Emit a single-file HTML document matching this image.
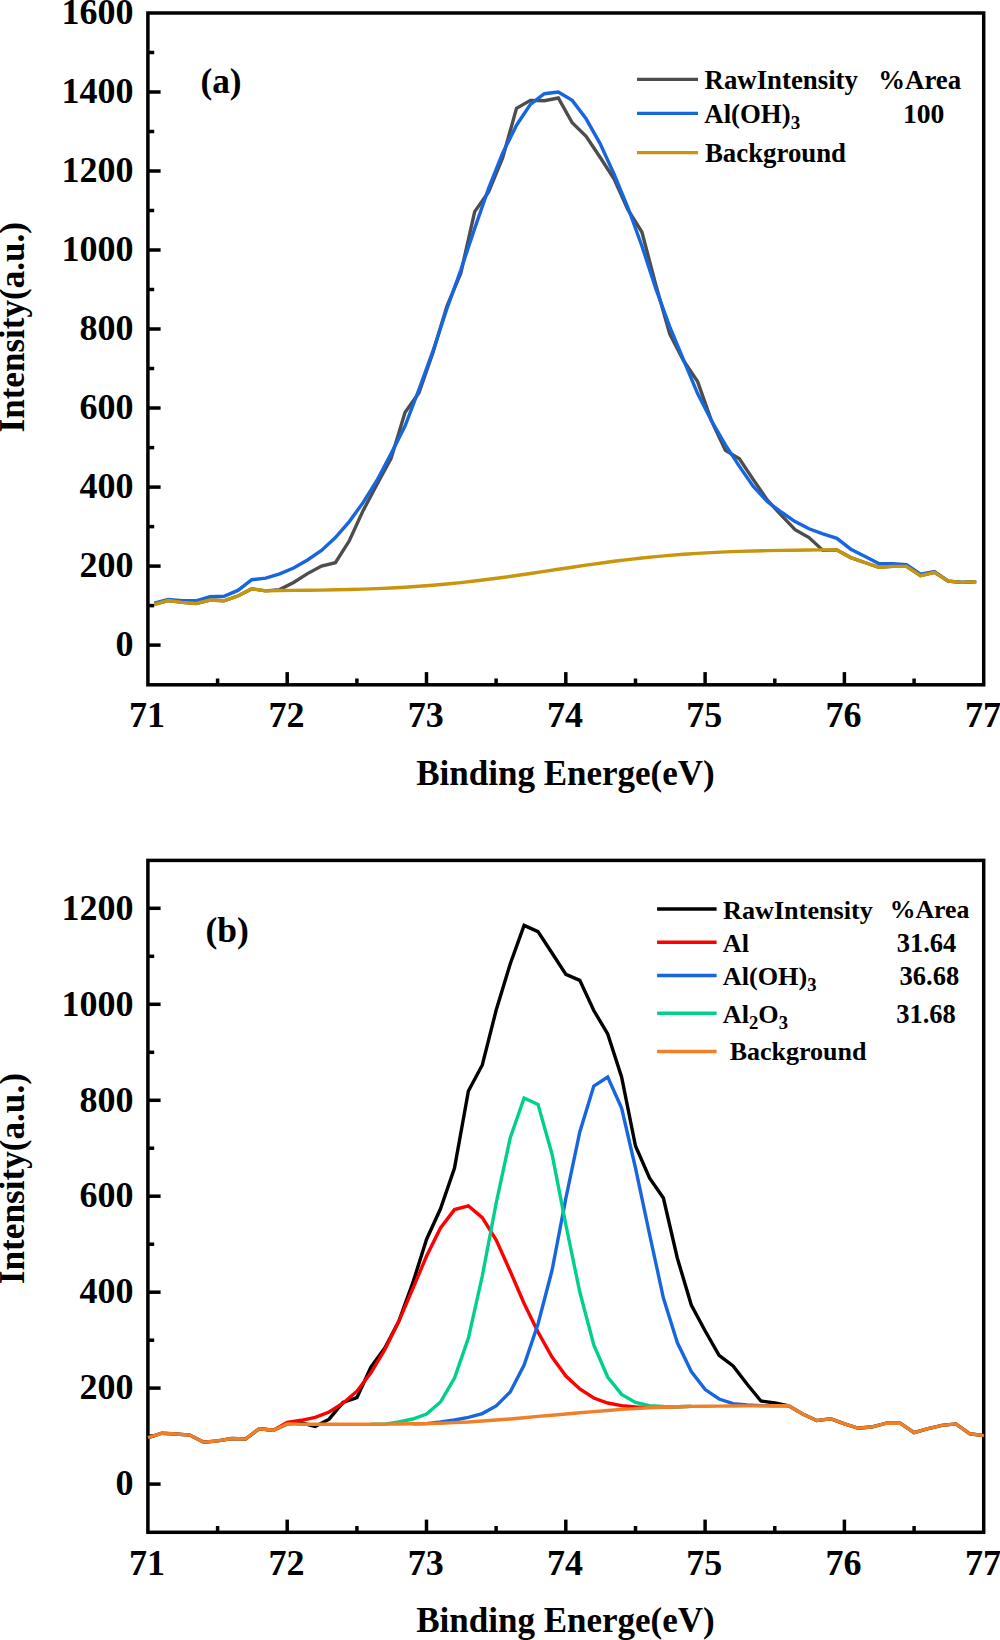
<!DOCTYPE html>
<html lang="en"><head><meta charset="utf-8"><title>XPS Al 2p spectra</title>
<style>html,body{margin:0;padding:0;background:#fff}body{width:1000px;height:1640px;overflow:hidden}svg{display:block}text{font-family:"Liberation Serif","Times New Roman",serif;font-weight:bold;fill:#000}</style>
</head><body>
<svg width="1000" height="1640" viewBox="0 0 1000 1640">
<rect width="1000" height="1640" fill="#fff"/>
<rect x="147.9" y="13.0" width="835.8" height="671.8" fill="none" stroke="#000" stroke-width="3.5"/>
<line x1="147.9" y1="645.1" x2="160.6" y2="645.1" stroke="#000" stroke-width="3.5"/>
<text x="133.5" y="656.3" font-size="36" text-anchor="end">0</text>
<line x1="147.9" y1="605.6" x2="154.2" y2="605.6" stroke="#000" stroke-width="3.5"/>
<line x1="147.9" y1="566.1" x2="160.6" y2="566.1" stroke="#000" stroke-width="3.5"/>
<text x="133.5" y="577.3" font-size="36" text-anchor="end">200</text>
<line x1="147.9" y1="526.6" x2="154.2" y2="526.6" stroke="#000" stroke-width="3.5"/>
<line x1="147.9" y1="487.1" x2="160.6" y2="487.1" stroke="#000" stroke-width="3.5"/>
<text x="133.5" y="498.3" font-size="36" text-anchor="end">400</text>
<line x1="147.9" y1="447.6" x2="154.2" y2="447.6" stroke="#000" stroke-width="3.5"/>
<line x1="147.9" y1="408.0" x2="160.6" y2="408.0" stroke="#000" stroke-width="3.5"/>
<text x="133.5" y="419.2" font-size="36" text-anchor="end">600</text>
<line x1="147.9" y1="368.5" x2="154.2" y2="368.5" stroke="#000" stroke-width="3.5"/>
<line x1="147.9" y1="329.0" x2="160.6" y2="329.0" stroke="#000" stroke-width="3.5"/>
<text x="133.5" y="340.2" font-size="36" text-anchor="end">800</text>
<line x1="147.9" y1="289.5" x2="154.2" y2="289.5" stroke="#000" stroke-width="3.5"/>
<line x1="147.9" y1="250.0" x2="160.6" y2="250.0" stroke="#000" stroke-width="3.5"/>
<text x="133.5" y="261.2" font-size="36" text-anchor="end">1000</text>
<line x1="147.9" y1="210.5" x2="154.2" y2="210.5" stroke="#000" stroke-width="3.5"/>
<line x1="147.9" y1="171.0" x2="160.6" y2="171.0" stroke="#000" stroke-width="3.5"/>
<text x="133.5" y="182.2" font-size="36" text-anchor="end">1200</text>
<line x1="147.9" y1="131.5" x2="154.2" y2="131.5" stroke="#000" stroke-width="3.5"/>
<line x1="147.9" y1="92.0" x2="160.6" y2="92.0" stroke="#000" stroke-width="3.5"/>
<text x="133.5" y="103.2" font-size="36" text-anchor="end">1400</text>
<line x1="147.9" y1="52.5" x2="154.2" y2="52.5" stroke="#000" stroke-width="3.5"/>
<text x="133.5" y="24.1" font-size="36" text-anchor="end">1600</text>
<text x="147.1" y="727.3" font-size="36" text-anchor="middle">71</text>
<line x1="217.6" y1="684.8" x2="217.6" y2="678.5" stroke="#000" stroke-width="3.5"/>
<line x1="287.2" y1="684.8" x2="287.2" y2="672.1" stroke="#000" stroke-width="3.5"/>
<text x="286.4" y="727.3" font-size="36" text-anchor="middle">72</text>
<line x1="356.9" y1="684.8" x2="356.9" y2="678.5" stroke="#000" stroke-width="3.5"/>
<line x1="426.5" y1="684.8" x2="426.5" y2="672.1" stroke="#000" stroke-width="3.5"/>
<text x="425.7" y="727.3" font-size="36" text-anchor="middle">73</text>
<line x1="496.1" y1="684.8" x2="496.1" y2="678.5" stroke="#000" stroke-width="3.5"/>
<line x1="565.8" y1="684.8" x2="565.8" y2="672.1" stroke="#000" stroke-width="3.5"/>
<text x="565.0" y="727.3" font-size="36" text-anchor="middle">74</text>
<line x1="635.5" y1="684.8" x2="635.5" y2="678.5" stroke="#000" stroke-width="3.5"/>
<line x1="705.1" y1="684.8" x2="705.1" y2="672.1" stroke="#000" stroke-width="3.5"/>
<text x="704.3" y="727.3" font-size="36" text-anchor="middle">75</text>
<line x1="774.8" y1="684.8" x2="774.8" y2="678.5" stroke="#000" stroke-width="3.5"/>
<line x1="844.4" y1="684.8" x2="844.4" y2="672.1" stroke="#000" stroke-width="3.5"/>
<text x="843.6" y="727.3" font-size="36" text-anchor="middle">76</text>
<line x1="914.1" y1="684.8" x2="914.1" y2="678.5" stroke="#000" stroke-width="3.5"/>
<text x="982.9" y="727.3" font-size="36" text-anchor="middle">77</text>
<text x="565.5" y="784.6" font-size="35" text-anchor="middle">Binding Energe(eV)</text>
<text transform="translate(24,432.5) rotate(-90)" font-size="35.1">Intensity(a.u.)</text>
<polyline points="154.3,604.3 168.2,600.5 182.2,602.4 196.1,603.5 210.0,600.0 224.0,600.8 237.9,596.0 251.8,588.8 265.7,590.9 279.7,589.6 293.6,582.4 307.5,573.6 321.5,566.1 335.4,562.7 349.3,540.8 363.2,510.4 377.2,484.0 391.1,458.4 405.0,412.5 419.0,392.8 432.9,352.8 446.8,306.5 460.8,273.2 474.7,211.6 488.6,192.0 502.6,158.0 516.5,108.4 530.4,100.4 544.3,100.7 558.3,98.0 572.2,122.8 586.1,136.4 600.1,157.2 614.0,178.8 627.9,209.6 641.9,232.0 655.8,284.9 669.7,333.8 683.6,360.8 697.6,381.6 711.5,420.8 725.4,450.4 739.4,458.8 753.3,479.6 767.2,500.0 781.2,515.2 795.1,529.6 809.0,537.6 822.9,550.4 836.9,549.9 850.8,557.6 864.7,562.5 878.7,567.3 892.6,566.4 906.5,566.4 920.5,575.7 934.4,572.3 948.3,581.1 962.2,582.4 976.2,581.6" stroke="#4d4d4d" fill="none" stroke-width="3.4" stroke-linejoin="miter" stroke-miterlimit="3" stroke-linecap="butt"/>
<polyline points="154.3,603.2 168.2,599.5 182.2,600.8 196.1,600.8 210.0,596.8 224.0,596.3 237.9,590.4 251.8,579.7 265.7,578.2 279.7,573.8 293.6,568.0 307.5,560.0 321.5,550.4 335.4,537.6 349.3,521.6 363.2,502.4 377.2,480.0 391.1,453.6 405.0,426.0 419.0,389.3 432.9,351.2 446.8,309.0 460.8,270.0 474.7,228.4 488.6,188.4 502.6,153.2 516.5,125.2 530.4,104.4 544.3,93.7 558.3,92.1 572.2,100.4 586.1,118.8 600.1,143.6 614.0,174.0 627.9,207.5 641.9,246.0 655.8,288.7 669.7,326.6 683.6,360.0 697.6,393.6 711.5,420.8 725.4,444.8 739.4,466.4 753.3,486.4 767.2,501.6 781.2,512.0 795.1,521.6 809.0,528.8 822.9,533.9 836.9,538.4 850.8,549.2 864.7,556.2 878.7,563.6 892.6,563.6 906.5,564.7 920.5,574.2 934.4,571.5 948.3,581.1 962.2,582.4 976.2,581.6" stroke="#1766e0" fill="none" stroke-width="3.4" stroke-linejoin="miter" stroke-miterlimit="3" stroke-linecap="butt"/>
<polyline points="154.3,604.3 168.2,600.5 182.2,602.4 196.1,603.5 210.0,600.0 224.0,600.8 237.9,596.0 251.8,588.8 265.7,590.9 279.7,590.5 293.6,590.4 307.5,590.3 321.5,590.1 335.4,589.8 349.3,589.5 363.2,589.1 377.2,588.6 391.1,588.0 405.0,587.2 419.0,586.3 432.9,585.2 446.8,584.0 460.8,582.6 474.7,581.0 488.6,579.3 502.6,577.5 516.5,575.5 530.4,573.5 544.3,571.4 558.3,569.3 572.2,567.2 586.1,565.1 600.1,563.2 614.0,561.3 627.9,559.6 641.9,558.0 655.8,556.6 669.7,555.4 683.6,554.3 697.6,553.4 711.5,552.6 725.4,551.9 739.4,551.4 753.3,551.0 767.2,550.6 781.2,550.4 795.1,550.2 809.0,550.0 822.9,549.9 836.9,549.9 850.8,557.6 864.7,562.5 878.7,567.3 892.6,566.4 906.5,566.4 920.5,575.7 934.4,572.3 948.3,581.1 962.2,582.4 976.2,581.6" stroke="#c8960c" fill="none" stroke-width="3.4" stroke-linejoin="miter" stroke-miterlimit="3" stroke-linecap="butt"/>
<text x="200.4" y="92.5" font-size="35.3">(a)</text>
<line x1="637" y1="79.4" x2="698" y2="79.4" stroke="#4d4d4d" stroke-width="3.4"/>
<line x1="637" y1="113.4" x2="698" y2="113.4" stroke="#1766e0" stroke-width="3.4"/>
<line x1="637" y1="152.6" x2="698" y2="152.6" stroke="#c8960c" stroke-width="3.4"/>
<text x="704.6" y="88.6" font-size="26.8">RawIntensity</text>
<text x="878.3" y="88.6" font-size="26.8">%Area</text>
<text x="704.3" y="122.5" font-size="26.8">Al(OH)<tspan font-size="19" dy="6.6">3</tspan></text>
<text x="923.7" y="122.5" font-size="26.8" text-anchor="middle" textLength="41.5" lengthAdjust="spacingAndGlyphs">100</text>
<text x="705" y="161.8" font-size="26.8">Background</text>
<rect x="147.9" y="860.4" width="835.8" height="671.9" fill="none" stroke="#000" stroke-width="3.5"/>
<line x1="147.9" y1="1484.1" x2="160.6" y2="1484.1" stroke="#000" stroke-width="3.5"/>
<text x="133.5" y="1495.3" font-size="36" text-anchor="end">0</text>
<line x1="147.9" y1="1436.1" x2="154.2" y2="1436.1" stroke="#000" stroke-width="3.5"/>
<line x1="147.9" y1="1388.1" x2="160.6" y2="1388.1" stroke="#000" stroke-width="3.5"/>
<text x="133.5" y="1399.3" font-size="36" text-anchor="end">200</text>
<line x1="147.9" y1="1340.2" x2="154.2" y2="1340.2" stroke="#000" stroke-width="3.5"/>
<line x1="147.9" y1="1292.2" x2="160.6" y2="1292.2" stroke="#000" stroke-width="3.5"/>
<text x="133.5" y="1303.4" font-size="36" text-anchor="end">400</text>
<line x1="147.9" y1="1244.2" x2="154.2" y2="1244.2" stroke="#000" stroke-width="3.5"/>
<line x1="147.9" y1="1196.2" x2="160.6" y2="1196.2" stroke="#000" stroke-width="3.5"/>
<text x="133.5" y="1207.4" font-size="36" text-anchor="end">600</text>
<line x1="147.9" y1="1148.2" x2="154.2" y2="1148.2" stroke="#000" stroke-width="3.5"/>
<line x1="147.9" y1="1100.3" x2="160.6" y2="1100.3" stroke="#000" stroke-width="3.5"/>
<text x="133.5" y="1111.5" font-size="36" text-anchor="end">800</text>
<line x1="147.9" y1="1052.3" x2="154.2" y2="1052.3" stroke="#000" stroke-width="3.5"/>
<line x1="147.9" y1="1004.3" x2="160.6" y2="1004.3" stroke="#000" stroke-width="3.5"/>
<text x="133.5" y="1015.5" font-size="36" text-anchor="end">1000</text>
<line x1="147.9" y1="956.3" x2="154.2" y2="956.3" stroke="#000" stroke-width="3.5"/>
<line x1="147.9" y1="908.3" x2="160.6" y2="908.3" stroke="#000" stroke-width="3.5"/>
<text x="133.5" y="919.5" font-size="36" text-anchor="end">1200</text>
<text x="147.1" y="1574.8" font-size="36" text-anchor="middle">71</text>
<line x1="217.6" y1="1532.3" x2="217.6" y2="1526.0" stroke="#000" stroke-width="3.5"/>
<line x1="287.2" y1="1532.3" x2="287.2" y2="1519.6" stroke="#000" stroke-width="3.5"/>
<text x="286.4" y="1574.8" font-size="36" text-anchor="middle">72</text>
<line x1="356.9" y1="1532.3" x2="356.9" y2="1526.0" stroke="#000" stroke-width="3.5"/>
<line x1="426.5" y1="1532.3" x2="426.5" y2="1519.6" stroke="#000" stroke-width="3.5"/>
<text x="425.7" y="1574.8" font-size="36" text-anchor="middle">73</text>
<line x1="496.1" y1="1532.3" x2="496.1" y2="1526.0" stroke="#000" stroke-width="3.5"/>
<line x1="565.8" y1="1532.3" x2="565.8" y2="1519.6" stroke="#000" stroke-width="3.5"/>
<text x="565.0" y="1574.8" font-size="36" text-anchor="middle">74</text>
<line x1="635.5" y1="1532.3" x2="635.5" y2="1526.0" stroke="#000" stroke-width="3.5"/>
<line x1="705.1" y1="1532.3" x2="705.1" y2="1519.6" stroke="#000" stroke-width="3.5"/>
<text x="704.3" y="1574.8" font-size="36" text-anchor="middle">75</text>
<line x1="774.8" y1="1532.3" x2="774.8" y2="1526.0" stroke="#000" stroke-width="3.5"/>
<line x1="844.4" y1="1532.3" x2="844.4" y2="1519.6" stroke="#000" stroke-width="3.5"/>
<text x="843.6" y="1574.8" font-size="36" text-anchor="middle">76</text>
<line x1="914.1" y1="1532.3" x2="914.1" y2="1526.0" stroke="#000" stroke-width="3.5"/>
<text x="982.9" y="1574.8" font-size="36" text-anchor="middle">77</text>
<text x="565.5" y="1632.1" font-size="35" text-anchor="middle">Binding Energe(eV)</text>
<text transform="translate(24.1,1284.2) rotate(-90)" font-size="35.2">Intensity(a.u.)</text>
<polyline points="148.0,1437.7 161.9,1433.2 175.9,1434.0 189.8,1435.1 203.7,1442.3 217.7,1440.9 231.6,1438.5 245.5,1439.0 259.4,1428.7 273.4,1430.3 287.3,1423.9 301.2,1422.8 315.2,1426.4 329.1,1419.2 343.0,1402.4 356.9,1397.6 370.9,1367.2 384.8,1348.0 398.7,1321.6 412.7,1283.2 426.6,1239.2 440.5,1208.8 454.5,1168.0 468.4,1091.0 482.3,1065.0 496.2,1010.0 510.2,964.0 524.1,925.4 538.0,931.6 552.0,953.0 565.9,974.4 579.8,980.4 593.8,1010.5 607.7,1034.0 621.6,1077.0 635.5,1146.0 649.5,1178.0 663.4,1198.0 677.3,1258.0 691.3,1305.0 705.2,1331.0 719.1,1355.4 733.1,1366.0 747.0,1384.0 760.9,1401.0 774.9,1403.0 788.8,1405.8 802.7,1414.0 816.6,1420.6 830.6,1418.7 844.5,1423.8 858.4,1428.3 872.4,1426.8 886.3,1423.2 900.2,1423.2 914.1,1432.7 928.1,1428.7 942.0,1425.4 955.9,1423.9 969.9,1433.8 983.8,1435.6" stroke="#000" fill="none" stroke-width="3.4" stroke-linejoin="miter" stroke-miterlimit="3" stroke-linecap="butt"/>
<polyline points="259.4,1428.7 273.4,1430.3 287.3,1422.4 301.2,1420.3 315.2,1417.3 329.1,1412.0 343.0,1403.2 356.9,1391.2 370.9,1372.8 384.8,1349.6 398.7,1321.6 412.7,1288.8 426.6,1256.0 440.5,1228.0 454.5,1209.6 468.4,1205.9 482.3,1217.6 496.2,1240.0 510.2,1271.2 524.1,1303.5 538.0,1332.0 552.0,1357.0 565.9,1376.0 579.8,1389.0 593.8,1398.0 607.7,1403.0 621.6,1405.6 635.5,1407.0 649.5,1407.4 663.4,1407.2 677.3,1406.7 691.3,1406.4" stroke="#ff0000" fill="none" stroke-width="3.4" stroke-linejoin="miter" stroke-miterlimit="3" stroke-linecap="butt"/>
<polyline points="412.7,1423.8 426.6,1423.6 440.5,1422.0 454.5,1420.0 468.4,1417.4 482.3,1413.6 496.2,1406.0 510.2,1392.0 524.1,1365.0 538.0,1324.0 552.0,1270.5 565.9,1198.0 579.8,1132.0 593.8,1086.0 607.7,1077.0 621.6,1108.0 635.5,1168.0 649.5,1234.0 663.4,1298.0 677.3,1342.5 691.3,1371.5 705.2,1389.6 719.1,1399.0 733.1,1403.6 747.0,1405.0 760.9,1405.6 774.9,1405.8 788.8,1405.8" stroke="#1766e0" fill="none" stroke-width="3.4" stroke-linejoin="miter" stroke-miterlimit="3" stroke-linecap="butt"/>
<polyline points="370.9,1424.2 384.8,1424.1 398.7,1422.0 412.7,1419.0 426.6,1414.0 440.5,1402.0 454.5,1378.0 468.4,1338.0 482.3,1276.0 496.2,1203.0 510.2,1138.0 524.1,1098.0 538.0,1104.4 552.0,1154.0 565.9,1225.0 579.8,1292.0 593.8,1345.0 607.7,1377.0 621.6,1394.4 635.5,1402.4 649.5,1405.6 663.4,1406.5 677.3,1406.7 691.3,1406.4" stroke="#00d08c" fill="none" stroke-width="3.4" stroke-linejoin="miter" stroke-miterlimit="3" stroke-linecap="butt"/>
<polyline points="148.0,1437.7 161.9,1433.2 175.9,1434.0 189.8,1435.1 203.7,1442.3 217.7,1440.9 231.6,1438.5 245.5,1439.0 259.4,1428.7 273.4,1430.3 287.3,1423.9 301.2,1424.3 315.2,1424.3 329.1,1424.3 343.0,1424.3 356.9,1424.2 370.9,1424.2 384.8,1424.1 398.7,1424.0 412.7,1423.8 426.6,1423.6 440.5,1423.2 454.5,1422.6 468.4,1422.0 482.3,1421.0 496.2,1420.0 510.2,1419.0 524.1,1417.7 538.0,1416.4 552.0,1415.2 565.9,1414.0 579.8,1412.8 593.8,1411.6 607.7,1410.5 621.6,1409.4 635.5,1408.6 649.5,1407.8 663.4,1407.2 677.3,1406.7 691.3,1406.4 705.2,1406.2 719.1,1406.1 733.1,1406.0 747.0,1405.9 760.9,1405.9 774.9,1405.8 788.8,1405.8 802.7,1414.0 816.6,1420.6 830.6,1418.7 844.5,1423.8 858.4,1428.3 872.4,1426.8 886.3,1423.2 900.2,1423.2 914.1,1432.7 928.1,1428.7 942.0,1425.4 955.9,1423.9 969.9,1433.8 983.8,1435.6" stroke="#f08028" fill="none" stroke-width="3.4" stroke-linejoin="miter" stroke-miterlimit="3" stroke-linecap="butt"/>
<text x="205.4" y="942" font-size="35.5">(b)</text>
<line x1="657.1" y1="909.1" x2="716.6" y2="909.1" stroke="#000" stroke-width="3.5"/>
<line x1="657.1" y1="942.3" x2="716.6" y2="942.3" stroke="#ff0000" stroke-width="3.5"/>
<line x1="657.1" y1="975.4" x2="716.6" y2="975.4" stroke="#1766e0" stroke-width="3.5"/>
<line x1="657.1" y1="1013.3" x2="716.6" y2="1013.3" stroke="#00d08c" stroke-width="3.5"/>
<line x1="657.1" y1="1051.4" x2="716.6" y2="1051.4" stroke="#f08028" stroke-width="3.5"/>
<text x="723" y="918.5" font-size="26.2">RawIntensity</text>
<text x="889.7" y="918.4" font-size="25.8">%Area</text>
<text x="722.8" y="951.5" font-size="26.2">Al</text>
<text x="896.7" y="951.5" font-size="26.5">31.64</text>
<text x="722.8" y="984.5" font-size="26.2">Al(OH)<tspan font-size="18.6" dy="6.6">3</tspan></text>
<text x="899.5" y="984.7" font-size="26.5">36.68</text>
<text x="722.8" y="1022.8" font-size="26.2">Al<tspan font-size="18.6" dy="6.6">2</tspan><tspan dy="-6.6">O</tspan><tspan font-size="18.6" dy="6.6">3</tspan></text>
<text x="896.2" y="1022.9" font-size="26.5">31.68</text>
<text x="729.7" y="1060.4" font-size="26">Background</text>
</svg></body></html>
